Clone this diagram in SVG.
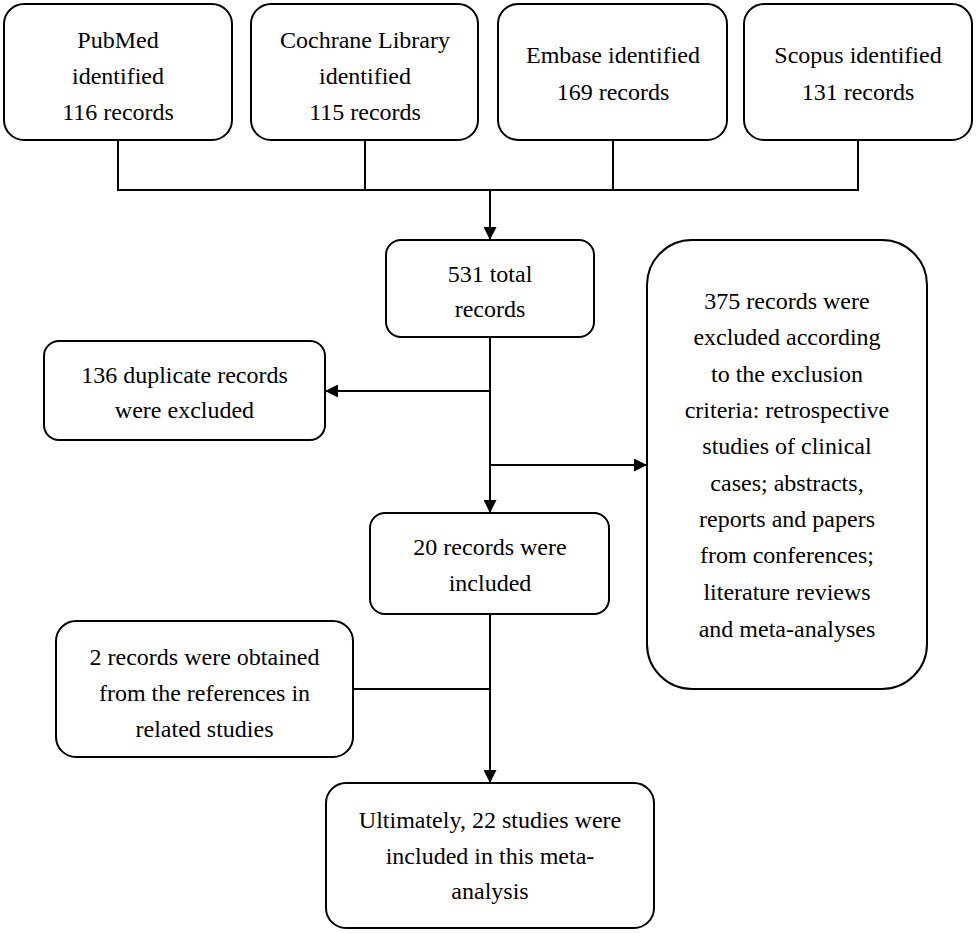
<svg xmlns="http://www.w3.org/2000/svg" width="976" height="933" viewBox="0 0 976 933">
<defs>
<marker id="arr" markerUnits="userSpaceOnUse" markerWidth="13" markerHeight="13" refX="13" refY="6.5" orient="auto">
<path d="M0,0 L13,6.5 L0,13 z" fill="#000"/>
</marker>
</defs>
<rect width="976" height="933" fill="#fff"/>
<g id="connectors" fill="none" stroke="#000" stroke-width="2">
<path d="M118,140 V190 H858 V140 M365,140 V190 M613,140 V190"/>
<line x1="490" y1="190" x2="490" y2="240" marker-end="url(#arr)"/>
<line x1="490" y1="337" x2="490" y2="513" marker-end="url(#arr)"/>
<line x1="490" y1="391" x2="325" y2="391" marker-end="url(#arr)"/>
<line x1="490" y1="465" x2="647" y2="465" marker-end="url(#arr)"/>
<line x1="490" y1="614" x2="490" y2="783" marker-end="url(#arr)"/>
<line x1="353" y1="689" x2="490" y2="689"/>
</g>
<g id="pubmed">
<rect x="4" y="4" width="228" height="136" rx="20" fill="#fff" stroke="#000" stroke-width="2"/>
<text x="118" y="48" font-size="24" font-family="Liberation Serif" text-anchor="middle">PubMed</text>
<text x="118" y="84" font-size="24" font-family="Liberation Serif" text-anchor="middle">identified</text>
<text x="118" y="120" font-size="24" font-family="Liberation Serif" text-anchor="middle">116 records</text>
</g>
<g id="cochrane">
<rect x="251" y="4" width="227" height="136" rx="20" fill="#fff" stroke="#000" stroke-width="2"/>
<text x="365" y="48" font-size="24" font-family="Liberation Serif" text-anchor="middle">Cochrane Library</text>
<text x="365" y="84" font-size="24" font-family="Liberation Serif" text-anchor="middle">identified</text>
<text x="365" y="120" font-size="24" font-family="Liberation Serif" text-anchor="middle">115 records</text>
</g>
<g id="embase">
<rect x="498" y="4" width="229" height="136" rx="20" fill="#fff" stroke="#000" stroke-width="2"/>
<text x="613" y="63" font-size="24" font-family="Liberation Serif" text-anchor="middle">Embase identified</text>
<text x="613" y="100" font-size="24" font-family="Liberation Serif" text-anchor="middle">169 records</text>
</g>
<g id="scopus">
<rect x="744" y="4" width="228" height="136" rx="20" fill="#fff" stroke="#000" stroke-width="2"/>
<text x="858" y="63" font-size="24" font-family="Liberation Serif" text-anchor="middle">Scopus identified</text>
<text x="858" y="100" font-size="24" font-family="Liberation Serif" text-anchor="middle">131 records</text>
</g>
<g id="total">
<rect x="386" y="240" width="208" height="97" rx="15" fill="#fff" stroke="#000" stroke-width="2"/>
<text x="490" y="282" font-size="24" font-family="Liberation Serif" text-anchor="middle">531 total</text>
<text x="490" y="317" font-size="24" font-family="Liberation Serif" text-anchor="middle">records</text>
</g>
<g id="duplicates">
<rect x="44" y="341" width="281" height="99" rx="15" fill="#fff" stroke="#000" stroke-width="2"/>
<text x="184.500" y="383" font-size="24" font-family="Liberation Serif" text-anchor="middle">136 duplicate records</text>
<text x="184.500" y="418" font-size="24" font-family="Liberation Serif" text-anchor="middle">were excluded</text>
</g>
<g id="excluded">
<rect x="647" y="240" width="280" height="449" rx="45" fill="#fff" stroke="#000" stroke-width="2"/>
<text x="787" y="309" font-size="24" font-family="Liberation Serif" text-anchor="middle">375 records were</text>
<text x="787" y="345" font-size="24" font-family="Liberation Serif" text-anchor="middle">excluded according</text>
<text x="787" y="382" font-size="24" font-family="Liberation Serif" text-anchor="middle">to the exclusion</text>
<text x="787" y="418" font-size="24" font-family="Liberation Serif" text-anchor="middle">criteria: retrospective</text>
<text x="787" y="454" font-size="24" font-family="Liberation Serif" text-anchor="middle">studies of clinical</text>
<text x="787" y="491" font-size="24" font-family="Liberation Serif" text-anchor="middle">cases; abstracts,</text>
<text x="787" y="527" font-size="24" font-family="Liberation Serif" text-anchor="middle">reports and papers</text>
<text x="787" y="563" font-size="24" font-family="Liberation Serif" text-anchor="middle">from conferences;</text>
<text x="787" y="600" font-size="24" font-family="Liberation Serif" text-anchor="middle">literature reviews</text>
<text x="787" y="637" font-size="24" font-family="Liberation Serif" text-anchor="middle">and meta-analyses</text>
</g>
<g id="included20">
<rect x="370" y="513" width="239" height="101" rx="15" fill="#fff" stroke="#000" stroke-width="2"/>
<text x="490" y="555" font-size="24" font-family="Liberation Serif" text-anchor="middle">20 records were</text>
<text x="490" y="591" font-size="24" font-family="Liberation Serif" text-anchor="middle">included</text>
</g>
<g id="references">
<rect x="56" y="621" width="297" height="136" rx="20" fill="#fff" stroke="#000" stroke-width="2"/>
<text x="204.500" y="665" font-size="24" font-family="Liberation Serif" text-anchor="middle">2 records were obtained</text>
<text x="204.500" y="701" font-size="24" font-family="Liberation Serif" text-anchor="middle">from the references in</text>
<text x="204.500" y="737" font-size="24" font-family="Liberation Serif" text-anchor="middle">related studies</text>
</g>
<g id="final">
<rect x="326" y="783" width="328" height="145" rx="20" fill="#fff" stroke="#000" stroke-width="2"/>
<text x="490" y="828" font-size="24" font-family="Liberation Serif" text-anchor="middle">Ultimately, 22 studies were</text>
<text x="490" y="864" font-size="24" font-family="Liberation Serif" text-anchor="middle">included in this meta-</text>
<text x="490" y="899" font-size="24" font-family="Liberation Serif" text-anchor="middle">analysis</text>
</g>
</svg>
